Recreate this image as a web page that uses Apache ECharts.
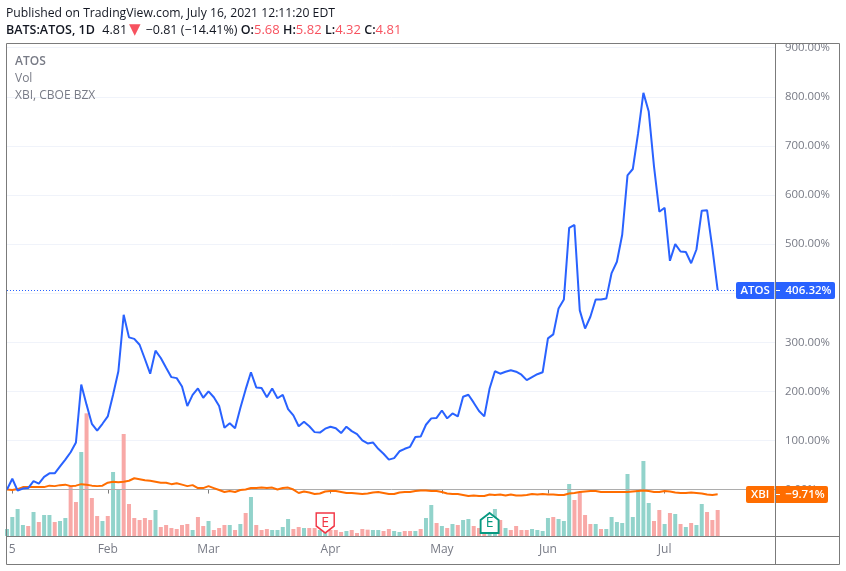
<!DOCTYPE html>
<html>
<head>
<meta charset="utf-8">
<style>html,body{margin:0;padding:0;background:#fff}#chart{width:846px;height:571px}</style>
<script src="https://cdn.jsdelivr.net/npm/echarts@6/dist/echarts.min.js"></script>
</head>
<body>
<div id="chart"></div>
<script>
// Trading sessions, Jan 4 to Jul 16 2021, then the empty right margin of the time scale
const sessionsByMonth = [
  ['01', [4,5,6,7,8,11,12,13,14,15,19,20,21,22,25,26,27,28,29]],
  ['02', [1,2,3,4,5,8,9,10,11,12,16,17,18,19,22,23,24,25,26]],
  ['03', [1,2,3,4,5,8,9,10,11,12,15,16,17,18,19,22,23,24,25,26,29,30,31]],
  ['04', [1,5,6,7,8,9,12,13,14,15,16,19,20,21,22,23,26,27,28,29,30]],
  ['05', [3,4,5,6,7,10,11,12,13,14,17,18,19,20,21,24,25,26,27,28]],
  ['06', [1,2,3,4,7,8,9,10,11,14,15,16,17,18,21,22,23,24,25,28,29,30]],
  ['07', [1,2,6,7,8,9,12,13,14,15,16,19,20,21,22,23,26,27,28,29,30]],
  ['08', [2]]
];
const dates = sessionsByMonth.flatMap(([m, days]) => days.map(d => m + '-' + String(d).padStart(2, '0')));

const tickDates = ['01-05', '02-01', '03-01', '04-01', '05-03', '06-01', '07-01'];
const tickLabels = ['5', 'Feb', 'Mar', 'Apr', 'May', 'Jun', 'Jul'];
const percentTicks = [0, 100, 200, 300, 400, 500, 600, 700, 800, 900];

// Percent change since the start of the range
const atos = [0,22,-2,2,3,17,12,26,33,33,47,61,76,96,214,173,134,120,134,149,193,241,356,310,307,295,266,236,283,268,248,229,227,210,170,193,206,187,200,188,170,126,135,125,166,204,239,208,207,188,206,186,
  193,164,151,129,138,129,117,116,124,128,125,115,128,119,113,100,94,96,83,73,61,64,78,83,87,107,108,132,145,146,161,145,155,149,189,193,177,160,149,206,241,236,240,243,240,234,223,229,235,239,308,316,369,387,533,539,365,328,352,387,387,389,441,464,519,640,653,726,808,770,658,566,574,466,500,485,484,461,489,568,569,492,406.32];
const xbi = [0,-1,1,5,5,5,5,5,8,7,9,10,7,8,11,10,8,7,8,14,16,15,16,18,23,21,19,18,16,14,14,11,13,10,7,9,3,3,7,3,-1,-5,-3,-5,-1,0,3,3,4,3,4,0,
  3,4,0,-7,-4,-6,-9,-8,-4,-3,-3,-5,-7,-7,-8,-9,-8,-6,-5,-7,-9,-9,-6,-5,-5,-3,-2,-2,-3,-3,-5,-8,-9,-9,-11,-13,-12,-13,-13,-10,-11,-10,-12,-10,-12,-12,-11,-9,-10,-9,-10,-10,-11,-11,-8,-7,-5,-4,-3,-3,-5,-5,-5,-5,-5,-5,-4,-3,-2,-3,-5,-5,-3,-4,-6,-7,-7,-6,-7,-8,-10,-11,-9.71];

// Session volume, and whether the session closed up (1) or down (0)
const volumes = [21,57,81,33,30,72,42,63,63,42,45,54,150,102,252,368,114,60,45,60,192,140,306,96,54,48,54,48,78,27,33,24,21,33,36,18,57,30,45,18,24,33,33,18,36,69,117,33,18,21,18,18,
  27,51,21,27,24,24,24,18,15,18,18,12,15,18,9,21,19,18,18,15,21,15,12,15,15,15,21,54,93,39,30,24,36,33,48,51,30,24,18,18,81,48,24,18,30,18,18,21,18,15,54,57,51,45,156,108,132,63,36,36,21,21,57,42,39,186,57,138,225,99,45,78,36,69,66,36,27,39,33,96,72,48,78];
const volumeUp = [1,1,1,1,0,1,0,1,1,0,1,1,0,0,1,0,0,0,1,0,1,1,0,0,0,0,0,0,1,0,0,0,0,0,0,1,0,0,1,0,0,0,1,0,1,0,1,0,0,0,1,1,
  1,1,0,0,1,0,0,1,1,0,0,0,1,0,0,0,0,1,1,0,0,1,1,0,0,1,0,1,1,0,1,0,1,0,1,1,0,0,0,1,1,0,1,0,0,0,0,1,1,1,1,0,1,1,1,0,0,0,0,1,0,1,1,1,1,1,1,1,1,1,0,0,1,0,1,0,1,0,1,1,0,0,0];

// Earnings events shown on the volume pane
const earningsDates = ['03-31', '05-14'];
const earningsLevel = 39;

const atosLast = 406.32;
const xbiLast = -9.71;

const BLUE = '#2962ff', ORANGE = '#ff6d00', AXIS = '#787b86', FRAME = '#7b7b7b', RED = '#f7525f';
const FONT = '"Open Sans", "Noto Sans", sans-serif';
const UP_BAR = '#92d3cb', DOWN_BAR = '#f8a9a7';

const chart = echarts.init(document.getElementById('chart'), null, { renderer: 'canvas' });

const grid = { left: 7, top: 44, width: 769, height: 492 };

chart.setOption({
  animation: false,
  backgroundColor: '#ffffff',
  textStyle: { fontFamily: FONT },
  grid,
  xAxis: {
    type: 'category',
    data: dates,
    boundaryGap: false,
    axisLine: { show: false },
    axisTick: { length: 4, lineStyle: { color: FRAME }, interval: (i, v) => tickDates.includes(v) },
    axisLabel: {
      color: AXIS, fontSize: 12, margin: 8, fontFamily: FONT,
      interval: (i, v) => tickDates.includes(v),
      formatter: v => tickLabels[tickDates.indexOf(v)]
    },
    splitLine: { show: false }
  },
  yAxis: [
    {
      type: 'value', position: 'right', min: -94.6, max: 907.6,
      axisLine: { show: false },
      axisTick: { length: 4, lineStyle: { color: FRAME }, customValues: percentTicks },
      axisLabel: { color: AXIS, fontSize: 11.4, margin: 9, padding: [2, 0, 0, 0], fontFamily: FONT, customValues: percentTicks, formatter: v => v.toFixed(2) + '%' },
      splitLine: { show: true, lineStyle: { color: '#f0f3fa', width: 1 } }
    },
    { type: 'value', min: 0, max: 1476, show: false, splitLine: { show: false } }
  ],
  series: [
    {
      name: 'Vol', type: 'bar', yAxisIndex: 1, barWidth: 4, z: 2,
      data: volumes.map((v, i) => ({ value: v, itemStyle: { color: volumeUp[i] ? UP_BAR : DOWN_BAR } }))
    },
    {
      name: 'XBI', type: 'line', data: xbi, symbol: 'none', z: 4,
      lineStyle: { color: ORANGE, width: 2 },
      markLine: {
        silent: true, symbol: 'none', label: { show: false }, z: 3,
        lineStyle: { color: '#adadad', width: 1, type: 'solid' },
        data: [{ yAxis: 0 }]
      }
    },
    {
      name: 'ATOS', type: 'line', data: atos, symbol: 'none', z: 5,
      lineStyle: { color: BLUE, width: 2 },
      markLine: {
        silent: true, symbol: 'none', label: { show: false },
        lineStyle: { color: BLUE, width: 1, type: [1, 2] },
        data: [{ yAxis: atosLast }]
      }
    },
    {
      name: 'Earnings', type: 'scatter', yAxisIndex: 1, z: 6, symbolSize: [18, 20],
      label: { show: true, formatter: 'E', position: 'inside', fontSize: 14, fontFamily: FONT },
      data: [
        {
          value: [earningsDates[0], earningsLevel],
          symbol: 'path://M1 0H17V13L9 20L1 13Z',
          itemStyle: { color: '#ffffff', opacity: 1, borderColor: '#f23645', borderWidth: 1.5 },
          label: { color: '#f23645' }
        },
        {
          value: [earningsDates[1], earningsLevel],
          symbol: 'path://M9 0L17 7V20H1V7Z',
          itemStyle: { color: '#ffffff', opacity: 1, borderColor: '#089981', borderWidth: 2 },
          label: { color: '#089981' }
        }
      ]
    }
  ]
});

// Price tags on the scale follow the last values through the axis
function priceTag(name, value, color, nameLeft, valueRight, textValue) {
  const y = chart.convertToPixel({ yAxisIndex: 0 }, value);
  const top = Math.round(y - 8.5);
  return [
    { type: 'rect', z: 50, shape: { x: nameLeft, y: top, width: 774.3 - nameLeft, height: 17, r: [2, 0, 0, 2] }, style: { fill: color } },
    { type: 'rect', z: 50, shape: { x: 776, y: top, width: valueRight - 776, height: 17, r: [0, 2, 2, 0] }, style: { fill: color } },
    { type: 'rect', z: 51, shape: { x: 776, y: top + 8, width: 4, height: 1 }, style: { fill: '#ffffff' } },
    { type: 'text', z: 52, x: (nameLeft + 774.3) / 2, y: top + 9, style: { text: name, fill: '#fff', font: '600 11.5px ' + FONT, align: 'center', verticalAlign: 'middle' } },
    { type: 'text', z: 52, x: (valueRight + 782) / 2, y: top + 9, style: { text: textValue, fill: '#fff', font: '600 11.5px ' + FONT, align: 'center', verticalAlign: 'middle' } }
  ];
}

const line = (x1, y1, x2, y2) => ({ type: 'line', z: 40, shape: { x1, y1, x2, y2 }, style: { stroke: FRAME, lineWidth: 1 } });
const darkRich = { fill: '#131722', font: '600 12.5px ' + FONT };
const redRich = { fill: RED, font: '13px ' + FONT };
const triangleRich = { fill: RED, font: '15px "DejaVu Sans"', padding: [0, 4, 0, 2] };
const plainRich = { fill: '#131722', font: '12.5px ' + FONT, padding: [0, 0, 0, 1] };
const legendText = (text, y, weight) => ({
  type: 'text', z: 30, x: 15, y,
  style: { text, fill: AXIS, font: weight + ' 12px ' + FONT, verticalAlign: 'middle' }
});

chart.setOption({
  graphic: [
    line(6.5, 43.5, 839.5, 43.5), line(6.5, 43.5, 6.5, 564.5), line(6.5, 564.5, 839.5, 564.5), line(839.5, 43.5, 839.5, 564.5),
    line(775.5, 43.5, 775.5, 564.5), line(6.5, 536.5, 839.5, 536.5),
    {
      type: 'text', z: 30, x: 6, y: 13.5,
      style: { text: 'Published on TradingView.com, July 16, 2021 12:11:20 EDT', fill: '#131722', font: '12.2px ' + FONT, verticalAlign: 'middle' }
    },
    {
      type: 'text', z: 30, x: 6, y: 30.5,
      style: {
        text: '{b|BATS:ATOS, 1D}{p|  4.81}{t|▼}{p|−0.81 (−14.41%) }{b|O:}{r|5.68 }{b|H:}{r|5.82 }{b|L:}{r|4.32 }{b|C:}{r|4.81}',
        verticalAlign: 'middle',
        rich: { b: darkRich, p: plainRich, r: redRich, t: triangleRich }
      }
    },
    legendText('ATOS', 61.5, 600),
    legendText('Vol', 78.5, 400),
    legendText('XBI, CBOE BZX', 95.5, 400),
    ...priceTag('ATOS', atosLast, BLUE, 736, 835, '406.32%'),
    ...priceTag('XBI', xbiLast, ORANGE, 746, 828, '−9.71%')
  ]
});
</script>
</body>
</html>
